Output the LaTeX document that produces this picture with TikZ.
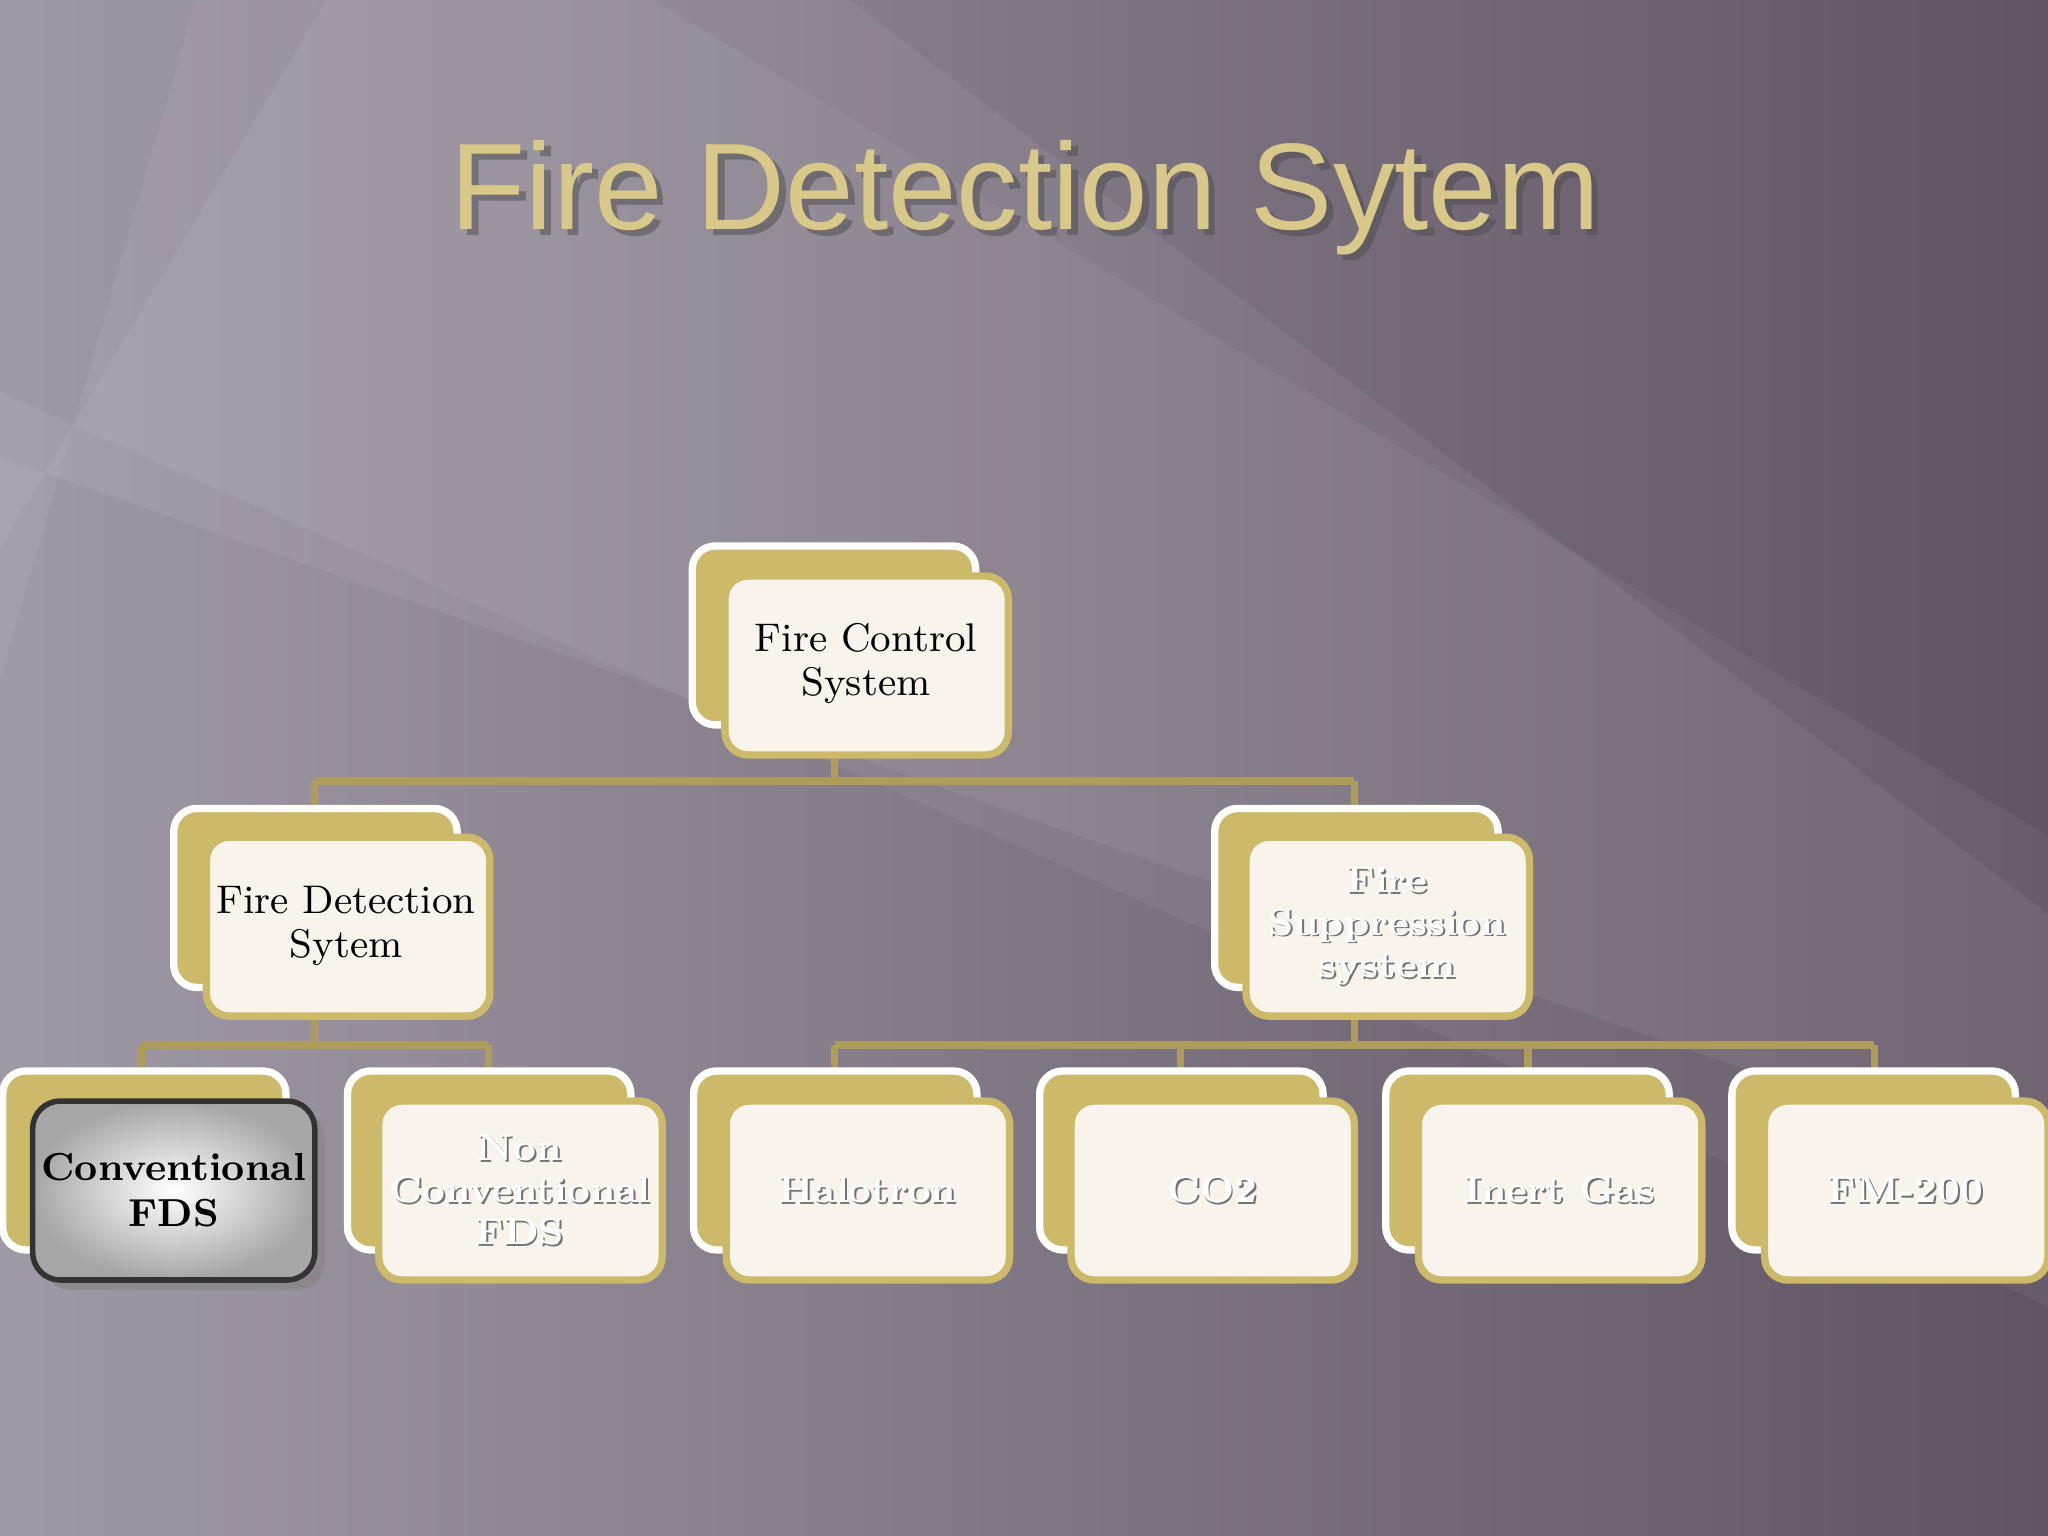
\documentclass[tikz,border=0pt]{standalone}
\usepackage{fontspec}
\newfontfamily\titlefont{Liberation Sans}
\usetikzlibrary{shadows,fadings}
\definecolor{gold}{HTML}{CDB96A}
\definecolor{cream}{HTML}{F8F4EC}
\definecolor{ttl}{HTML}{D8C889}
\begin{document}
\begin{tikzpicture}[x=0.01cm,y=-0.01cm,
  back/.style={draw=white,line width=1.6pt,fill=gold,rounded corners=5pt},
  front/.style={draw=gold,line width=1.6pt,fill=cream,rounded corners=5pt},
  lbl/.style={align=center,font=\fontsize{8.7}{9.6}\selectfont},
  emb/.style={align=center,font=\bfseries\fontsize{8.1}{9.2}\selectfont,text=white},
  con/.style={draw=gold!85!black,line width=1.6pt}]
\useasboundingbox (0,0) rectangle (1568,1176);
\shade[left color={rgb,255:red,160;green,154;blue,166},right color={rgb,255:red,96;green,84;blue,98}] (0,0) rectangle (1568,1176);
\fill[white,opacity=0.06] (0,420) -- (250,0) -- (650,0) -- (1568,700) -- (1568,900) -- (0,350) -- cycle;
\fill[white,opacity=0.05] (0,520) -- (150,0) -- (500,0) -- (1568,640) -- (1568,1000) -- (0,300) -- cycle;
\node[text=black!70,opacity=0.5] at (790,156) {\titlefont\fontsize{26.8}{30}\selectfont Fire Detection Sytem};
\node (title) [text=ttl] at (785,151) {\titlefont\fontsize{26.8}{30}\selectfont Fire Detection Sytem};
% connectors
\coordinate (b1) at (639,598); \coordinate (b1l) at (241,598); \coordinate (b1r) at (1037,598);
\draw[con] (639,578) -- (b1) (b1l) -- (b1r) (b1l) -- (241,619) (b1r) -- (1037,619);
\draw[con] (241,778) -- (241,800) (108,800) -- (374,800) (108,800) -- (108,820) (374,800) -- (374,820);
\draw[con] (1037,778) -- (1037,800) (639,800) -- (1435,800);
\foreach \x in {639,904,1170,1435} \draw[con] (\x,800) -- (\x,820);
% boxes
\newcommand\bx[5]{%
  \draw[back] (#1,#2) rectangle ++(217,137);
  \draw[front] (#3,#4) rectangle ++(217,137);
  \coordinate (#5) at ({#3+108},{#4+68});}
\bx{530}{418}{555}{441}{top}
\bx{133}{619}{158}{641}{fds}
\bx{930}{619}{954}{641}{fss}
\bx{266}{820}{290}{843}{ncf}
\bx{531}{820}{556}{843}{hal}
\bx{796}{820}{820}{843}{co}
\bx{1061}{820}{1086}{843}{ig}
\bx{1326}{820}{1351}{843}{fm}
\draw[back] (2,820) rectangle ++(217,137);
\shade[draw=black!80,line width=1.2pt,rounded corners=6pt,inner color=white,outer color=black!35,drop shadow] (25,843) rectangle ++(216,137);
\node[lbl,font=\bfseries\fontsize{8.5}{10}\selectfont] (cf) at (133,911) {Conventional\\FDS};
\node[lbl] (t1) at (663,508) {Fire Control\\System};
\node[lbl] (t2) at (265,709) {Fire Detection\\Sytem};
\foreach \p/\t in {fss/{Fire\\Suppression\\system},ncf/{Non\\Conventional\\FDS},hal/Halotron,co/CO2,ig/Inert Gas,fm/FM-200}{
  \node[emb,text=black!55] at ([shift={(1.5,1.5)}]\p) {\t};
  \node[emb] at (\p) {\t};}
\end{tikzpicture}
\end{document}
